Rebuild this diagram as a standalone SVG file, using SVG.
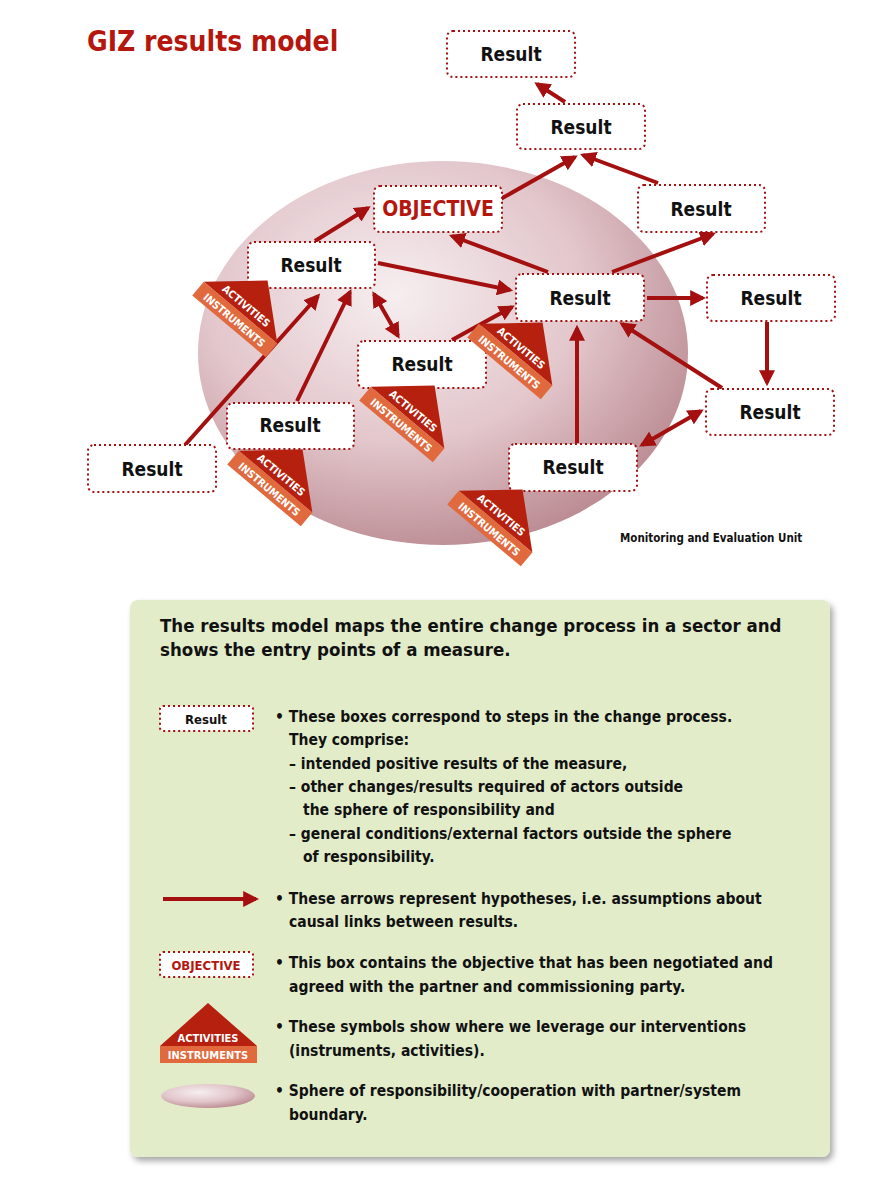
<svg xmlns="http://www.w3.org/2000/svg" width="869" height="1192" viewBox="0 0 869 1192">
<defs>
<radialGradient id="sph" cx="0.4" cy="0.35" r="0.7">
<stop offset="0" stop-color="#f6eef0"/><stop offset="0.55" stop-color="#e2c6cb"/><stop offset="1" stop-color="#b98890"/>
</radialGradient>
<marker id="ah" viewBox="0 0 10 10" refX="8" refY="5" markerWidth="4" markerHeight="4" orient="auto-start-reverse"><path d="M0,0 L10,5 L0,10 z" fill="#a3100f"/></marker>
<filter id="sh" x="-5%" y="-5%" width="110%" height="110%"><feDropShadow dx="3" dy="4" stdDeviation="3" flood-color="#000" flood-opacity="0.35"/></filter>
<g id="tri">
<polygon points="0,-32 -48,10 48,10" fill="#b5200f"/>
<rect x="-48" y="10" width="96" height="18" fill="#e06a3e"/>
<text x="0" y="5" class="tt">ACTIVITIES</text>
<text x="0" y="23.5" class="tt">INSTRUMENTS</text>
</g>
</defs>
<style>
.box{fill:#fff;stroke:#a3100f;stroke-width:2;stroke-dasharray:2 3}
.rt{font-family:"DejaVu Sans Condensed","Liberation Sans",sans-serif;font-weight:bold;font-size:19px;fill:#111;text-anchor:middle}
.tt{font-family:"DejaVu Sans Condensed","Liberation Sans",sans-serif;font-weight:bold;font-size:10.5px;fill:#fff;text-anchor:middle}
.ar{stroke:#a3100f;stroke-width:4;fill:none;marker-end:url(#ah)}
.bd{font-family:"DejaVu Sans Condensed","Liberation Sans",sans-serif;font-weight:bold;font-size:15.5px;fill:#111}
</style>
<rect width="869" height="1192" fill="#fff"/>
<text x="87" y="51" font-family="DejaVu Sans Condensed, Liberation Sans, sans-serif" font-weight="bold" font-size="28" fill="#b5170f">GIZ results model</text>
<ellipse cx="443" cy="353" rx="245" ry="192" fill="url(#sph)"/>
<g id="connectors">
<line class="ar" x1="565" y1="102" x2="537" y2="84"/>
<line class="ar" x1="658" y1="183" x2="583" y2="155"/>
<line class="ar" x1="490" y1="205" x2="575" y2="157"/>
<line class="ar" x1="315" y1="241" x2="368" y2="208"/>
<line class="ar" x1="548" y1="272" x2="452" y2="236"/>
<line class="ar" x1="612" y1="272" x2="713" y2="234"/>
<line class="ar" x1="378" y1="263" x2="510" y2="290"/>
<line class="ar" x1="647" y1="298" x2="703" y2="298" stroke-width="6"/>
<line class="ar" x1="767" y1="322" x2="767" y2="383"/>
<line class="ar" x1="722" y1="388" x2="622" y2="324"/>
<line class="ar" x1="577" y1="443" x2="577" y2="328"/>
<line class="ar" x1="642" y1="445" x2="701" y2="411" marker-start="url(#ah)"/>
<line class="ar" x1="452" y1="340" x2="512" y2="307"/>
<line class="ar" x1="374" y1="294" x2="398" y2="336" marker-start="url(#ah)"/>
<line class="ar" x1="297" y1="401" x2="350" y2="292"/>
<line class="ar" x1="185" y1="445" x2="318" y2="296"/>
</g>
<g id="n1"><rect class="box" x="447" y="31" width="128" height="46" rx="6"/><text class="rt" x="511" y="61">Result</text></g>
<g id="n2"><rect class="box" x="517" y="104" width="128" height="45" rx="6"/><text class="rt" x="581" y="134">Result</text></g>
<g id="obj"><rect class="box" x="374" y="186" width="128" height="46" rx="6"/><text class="rt" x="438" y="216" style="fill:#b5170f;font-size:21px">OBJECTIVE</text></g>
<g id="n3"><rect class="box" x="638" y="185" width="127" height="47" rx="6"/><text class="rt" x="701" y="216">Result</text></g>
<g id="n4"><rect class="box" x="248" y="242" width="127" height="46" rx="6"/><text class="rt" x="311" y="272">Result</text></g>
<g id="n5"><rect class="box" x="516" y="274" width="128" height="47" rx="6"/><text class="rt" x="580" y="305">Result</text></g>
<g id="n6"><rect class="box" x="707" y="275" width="128" height="46" rx="6"/><text class="rt" x="771" y="305">Result</text></g>
<g id="n7"><rect class="box" x="358" y="341" width="128" height="47" rx="6"/><text class="rt" x="422" y="371">Result</text></g>
<g id="n8"><rect class="box" x="706" y="389" width="128" height="46" rx="6"/><text class="rt" x="770" y="419">Result</text></g>
<g id="n9"><rect class="box" x="227" y="403" width="127" height="46" rx="6"/><text class="rt" x="290" y="432">Result</text></g>
<g id="n10"><rect class="box" x="88" y="445" width="128" height="47" rx="6"/><text class="rt" x="152" y="476">Result</text></g>
<g id="n11"><rect class="box" x="509" y="444" width="128" height="47" rx="6"/><text class="rt" x="573" y="474">Result</text></g>
<g id="t1"><use href="#tri" transform="translate(247,305) rotate(40)"/></g>
<g id="t2"><use href="#tri" transform="translate(414,410) rotate(40)"/></g>
<g id="t3"><use href="#tri" transform="translate(522,347) rotate(40)"/></g>
<g id="t4"><use href="#tri" transform="translate(282,474) rotate(40)"/></g>
<g id="t5"><use href="#tri" transform="translate(502,514) rotate(40)"/></g>
<text x="620" y="542" font-family="DejaVu Sans Condensed, Liberation Sans, sans-serif" font-weight="bold" font-size="11.5" fill="#111">Monitoring and Evaluation Unit</text>
<g id="legend">
<rect x="130" y="600" width="700" height="557" rx="8" fill="#e2ecc9" filter="url(#sh)"/>
<text class="bd" x="160" y="632" style="font-size:18.5px">The results model maps the entire change process in a sector and</text>
<text class="bd" x="160" y="656" style="font-size:18.5px">shows the entry points of a measure.</text>
<rect class="box" x="160" y="706" width="93" height="25" rx="3"/>
<text class="rt" x="206" y="724" style="font-size:13px">Result</text>
<text class="bd" x="275" y="722">• These boxes correspond to steps in the change process.</text>
<text class="bd" x="289" y="745">They comprise:</text>
<text class="bd" x="289" y="769">– intended positive results of the measure,</text>
<text class="bd" x="289" y="792">– other changes/results required of actors outside</text>
<text class="bd" x="303" y="815">the sphere of responsibility and</text>
<text class="bd" x="289" y="839">– general conditions/external factors outside the sphere</text>
<text class="bd" x="303" y="862">of responsibility.</text>
<line class="ar" x1="163" y1="899" x2="256" y2="899"/>
<text class="bd" x="275" y="904">• These arrows represent hypotheses, i.e. assumptions about</text>
<text class="bd" x="289" y="927">causal links between results.</text>
<rect class="box" x="160" y="952" width="93" height="25" rx="3"/>
<text class="rt" x="206" y="970" style="font-size:13px;fill:#b5170f">OBJECTIVE</text>
<text class="bd" x="275" y="968">• This box contains the objective that has been negotiated and</text>
<text class="bd" x="289" y="992">agreed with the partner and commissioning party.</text>
<polygon points="208,1003 160,1046 257,1046" fill="#b5200f"/>
<rect x="160" y="1046" width="97" height="17" fill="#e06a3e"/>
<text class="tt" x="208" y="1042" style="font-size:11px">ACTIVITIES</text>
<text class="tt" x="208" y="1059" style="font-size:11px">INSTRUMENTS</text>
<text class="bd" x="275" y="1032">• These symbols show where we leverage our interventions</text>
<text class="bd" x="289" y="1056">(instruments, activities).</text>
<ellipse cx="208" cy="1096" rx="47" ry="12" fill="url(#sph)"/>
<text class="bd" x="275" y="1096">• Sphere of responsibility/cooperation with partner/system</text>
<text class="bd" x="289" y="1120">boundary.</text>
</g>
</svg>
